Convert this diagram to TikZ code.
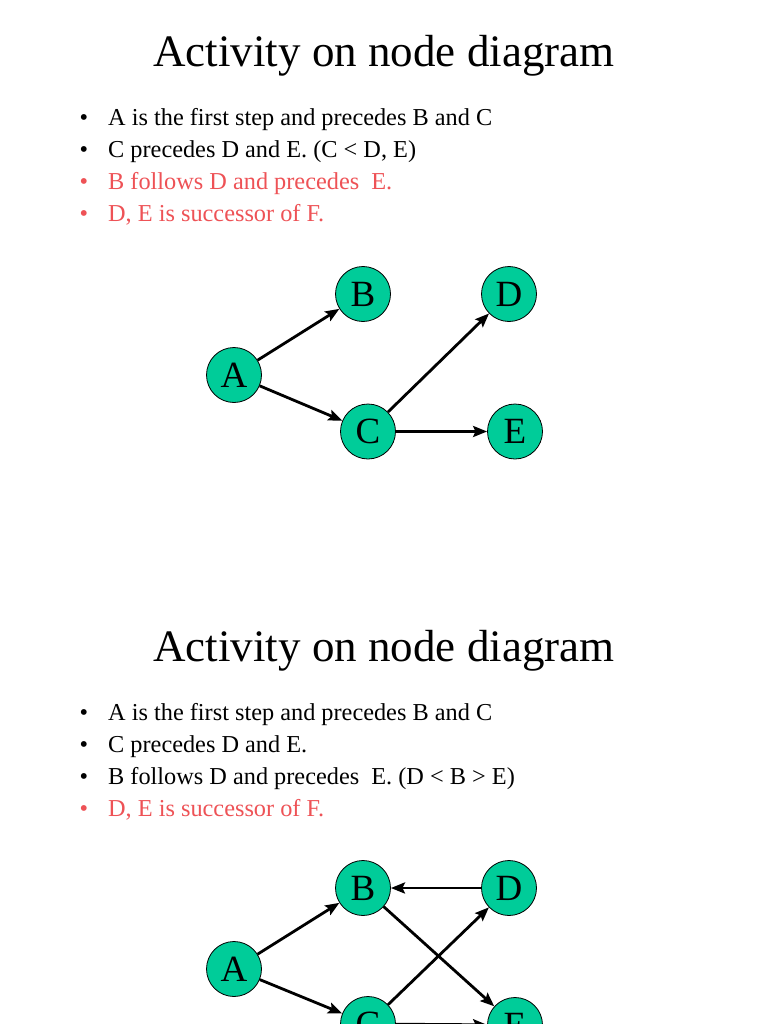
\documentclass[tikz,border=0pt]{standalone}
\usepackage{fontspec}
\setmainfont{Liberation Serif}
\usetikzlibrary{arrows.meta}
\definecolor{nodegreen}{RGB}{0,204,153}
\definecolor{hlred}{RGB}{238,82,86}
\begin{document}
\begin{tikzpicture}[x=1pt,y=-1pt,
  actnode/.style={circle,draw=black,line width=0.8pt,fill=nodegreen,minimum size=55pt,inner sep=0pt,font=\fontsize{37}{37}\selectfont},
  link/.style={line width=2.8pt,-{Stealth[length=14pt,width=11pt,inset=2.5pt]}},
  slidetitle/.style={anchor=base,font=\fontsize{45}{45}\selectfont,inner sep=0pt},
  itemtext/.style={anchor=base west,font=\fontsize{24.3}{24.3}\selectfont,inner sep=0pt},
  itemdot/.style={anchor=base,font=\fontsize{24.3}{24.3}\selectfont,inner sep=0pt},
  red/.style={text=hlred}]
\useasboundingbox (0,0) rectangle (768,1024);
\clip (0,0) rectangle (768,1024);
\fill[white] (0,0) rectangle (768,1024);

% ---------- first slide ----------
\node[slidetitle] (t1) at (384,67) {Activity on node diagram};
\node[itemdot] (b11) at (84,126) {•};
\node[itemtext] (l11) at (108,126) {A is the first step and precedes B and C};
\node[itemdot] (b12) at (84,158) {•};
\node[itemtext] (l12) at (108,158) {C precedes D and E. (C < D, E)};
\node[itemdot,red] (b13) at (84,190) {•};
\node[itemtext,red] (l13) at (108,190) {B follows D and precedes\ \ E.};
\node[itemdot,red] (b14) at (84,222) {•};
\node[itemtext,red] (l14) at (108,222) {D, E is successor of F.};

\node[actnode] (A1) at (234,375) {A};
\node[actnode] (B1) at (363,294) {B};
\node[actnode] (C1) at (368,431.5) {C};
\node[actnode] (D1) at (509,294) {D};
\node[actnode] (E1) at (515,431.5) {E};
\draw[link] (A1) -- (B1);
\draw[link] (A1) -- (C1);
\draw[link] (C1) -- (D1);
\draw[link] (C1) -- (E1);

% ---------- second slide ----------
\node[slidetitle] (t2) at (384,661) {Activity on node diagram};
\node[itemdot] (b21) at (84,720) {•};
\node[itemtext] (l21) at (108,720) {A is the first step and precedes B and C};
\node[itemdot] (b22) at (84,752) {•};
\node[itemtext] (l22) at (108,752) {C precedes D and E.};
\node[itemdot] (b23) at (84,784) {•};
\node[itemtext] (l23) at (108,784) {B follows D and precedes\ \ E. (D < B > E)};
\node[itemdot,red] (b24) at (84,816) {•};
\node[itemtext,red] (l24) at (108,816) {D, E is successor of F.};

\node[actnode] (A2) at (234,969) {A};
\node[actnode] (B2) at (363,888) {B};
\node[actnode] (C2) at (368,1024) {C};
\node[actnode] (D2) at (509,888) {D};
\node[actnode] (E2) at (515,1025) {E};
\draw[link] (A2) -- (B2);
\draw[link] (A2) -- (C2);
\draw[link] (C2) -- (D2);
\draw[link] (D2) -- (B2);
\draw[link] (B2) -- (E2);
\draw[link] (C2) -- (E2);
\end{tikzpicture}
\end{document}
